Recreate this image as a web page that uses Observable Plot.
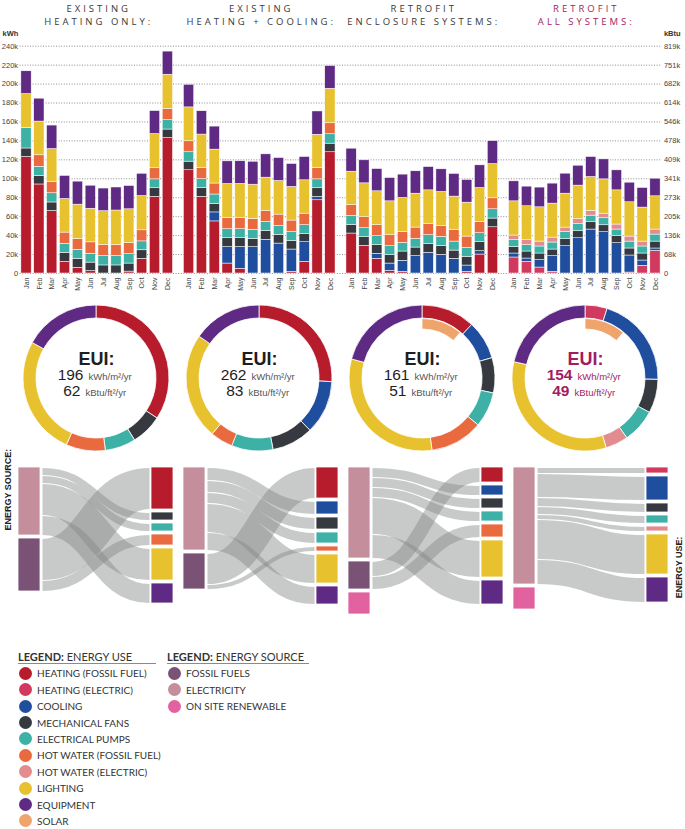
<!DOCTYPE html>
<html><head><meta charset="utf-8">
<script src="https://cdn.jsdelivr.net/npm/d3@7"></script>
<script src="https://cdn.jsdelivr.net/npm/@observablehq/plot@0.6"></script>
<style>
body{margin:0;background:#fff;}
#root{position:relative;width:685px;height:829px;overflow:hidden;font-family:"Liberation Sans",Arial,sans-serif;background:#fff;}
.lg-head{position:absolute;font-family:Lato,"Open Sans",sans-serif;font-size:11px;color:#333;white-space:nowrap;line-height:12px;}
.lg-line{position:absolute;height:1px;background:#8a8a8a;}
.lg-dot{position:absolute;width:13px;height:13px;border-radius:50%;}
.lg-txt{position:absolute;font-family:Lato,"Open Sans",sans-serif;font-size:10px;color:#333;white-space:nowrap;line-height:12px;}
</style></head><body><div id="root"></div>
<script>
// ---------------- DATA ----------------
const months = ["Jan","Feb","Mar","Apr","May","Jun","Jul","Aug","Sep","Oct","Nov","Dec"];
const scenarioTitles = ["EXISTING\nHEATING ONLY:", "EXISTING\nHEATING + COOLING:", "RETROFIT\nENCLOSURE SYSTEMS:", "RETROFIT\nALL SYSTEMS:"];
const useKeys = ["heatFossil","heatElec","cooling","fans","pumps","hwFossil","hwElec","lighting","equipment","solar"];
const useLabels = ["HEATING (FOSSIL FUEL)","HEATING (ELECTRIC)","COOLING","MECHANICAL FANS","ELECTRICAL PUMPS","HOT WATER (FOSSIL FUEL)","HOT WATER (ELECTRIC)","LIGHTING","EQUIPMENT","SOLAR"];
const sourceKeys = ["elec","fossil","renew"];
const sourceLabels = ["ELECTRICITY","FOSSIL FUELS","ON SITE RENEWABLE"];
const sourceLegendOrder = ["fossil","elec","renew"];

// monthly energy use, thousands of kWh
const existingHeatingOnly = {
  heatFossil: [123, 94, 66, 12.3, 6, 2.5, 0, 0, 2, 15.5, 81, 143],
  fans:       [9, 9, 9, 9.5, 9.5, 9, 8.5, 8.5, 8.5, 9, 9, 9],
  pumps:      [21.5, 9.7, 9.7, 9.5, 9.5, 9.4, 9.9, 9.9, 9.9, 9.4, 9.4, 9.9],
  hwFossil:   [0, 12.1, 11.8, 11.9, 11.5, 12, 11.6, 11.6, 11.6, 11.7, 11.7, 12],
  lighting:   [36, 35.6, 34.9, 35.5, 36.2, 35.5, 35.8, 36.5, 35.8, 36.2, 36.2, 36],
  equipment:  [24, 24.2, 24.8, 24.3, 24.3, 24.3, 23.9, 24.3, 24.6, 23.5, 24.2, 24.4]
};
const existingHeatingCooling = {
  heatFossil: [109, 81, 55, 10.5, 5, 0, 0, 0, 1.8, 12.3, 77.3, 128],
  cooling:    [0, 0, 9.5, 17.3, 22.9, 27.8, 35.5, 31.6, 23.5, 20.7, 3.5, 0],
  fans:       [9.1, 9.2, 9.1, 9.4, 9.4, 8.7, 9.5, 9.2, 9.1, 8.5, 9.2, 9.1],
  pumps:      [9.9, 9.4, 9.8, 9.5, 9.5, 9.5, 9.5, 9.4, 9.5, 9.5, 9.4, 9.9],
  hwFossil:   [11.6, 12, 11.6, 12, 12, 11.6, 11.5, 12, 12, 12.2, 12, 11.6],
  lighting:   [35.8, 35.1, 35.8, 35.8, 35.8, 36.2, 35.2, 35.5, 35.5, 35.2, 35.1, 36.5],
  equipment:  [23.9, 24.6, 24.3, 23.9, 23.9, 24.2, 24.6, 24.2, 24.2, 24.6, 24.6, 24]
};
const retrofitEnclosure = {
  heatFossil: [42.2, 29.2, 15.5, 2.8, 1.8, 0, 0, 0, 0, 1.8, 20, 48.8],
  cooling:    [0, 0, 5.2, 7.7, 11.6, 18.3, 21.8, 19.7, 15.5, 6.6, 3.5, 0],
  fans:       [9.1, 9.1, 9.2, 8.8, 9.8, 9.1, 9.1, 9.5, 8.7, 9.2, 9.5, 9.2],
  pumps:      [9.5, 9.5, 9.5, 9.5, 9.1, 9.1, 9.5, 9.5, 9.5, 9.5, 9.5, 9.8],
  hwFossil:   [11.6, 11.6, 11.6, 11.6, 11.6, 12, 12, 11.5, 12, 11.9, 12, 11.6],
  lighting:   [35.1, 35.8, 35.8, 35.8, 35.9, 35.8, 35.4, 35.9, 35.5, 35.8, 35.8, 36.2],
  equipment:  [24.3, 24.3, 23.5, 24.6, 24.6, 23.6, 24.6, 23.9, 23.9, 23.9, 23.9, 24.2]
};
const retrofitAll = {
  heatElec:   [16.9, 12.3, 6.3, 1.8, 0, 0, 0, 0, 0, 1, 8.1, 23.9],
  cooling:    [4.2, 3.5, 7.8, 16.5, 28.8, 37.2, 46.4, 43.6, 32, 18, 5.6, 2.5],
  fans:       [7, 7.4, 7, 7, 7.4, 7.4, 7.7, 7.3, 7.4, 7.4, 7.4, 7.3],
  pumps:      [7, 6.7, 7.4, 7.4, 7.4, 7.4, 7, 7.4, 7, 7.3, 7.4, 7.4],
  hwElec:     [5, 5.2, 5.2, 5.2, 4.9, 5.3, 5, 4.9, 5.3, 5.3, 5.2, 5.3],
  lighting:   [36.1, 35.9, 36.2, 35.9, 35.8, 35.5, 35.8, 36.2, 36.1, 36.2, 35.9, 35.1],
  equipment:  [21.1, 20.7, 20.8, 21.1, 21.1, 21, 21.1, 21.1, 21.1, 20.7, 20.7, 18.6]
};
const scenarios = [existingHeatingOnly, existingHeatingCooling, retrofitEnclosure, retrofitAll];

// yearly shares shown in the rings (percent) + solar arc
const donutHeatingOnly   = {heatFossil: 34.2, fans: 6.9, pumps: 6.8, hwFossil: 8.7, lighting: 26.4, equipment: 16.9};
const donutHeatingCool   = {heatFossil: 25.8, cooling: 11.9, fans: 9.2, pumps: 9.2, hwFossil: 5, lighting: 23.6, equipment: 15.3};
const donutEnclosure     = {heatFossil: 11.9, cooling: 8.6, fans: 7.8, pumps: 7.8, hwFossil: 11.7, lighting: 31.4, equipment: 20.8};
const donutAllSystems    = {heatElec: 4.9, cooling: 20.4, fans: 7.5, pumps: 7.5, hwElec: 5, lighting: 33.3, equipment: 21.4};
const donuts = [donutHeatingOnly, donutHeatingCool, donutEnclosure, donutAllSystems];
const solarShare = [0, 0, 11.1, 11.1];
const euiKwh = [196, 262, 161, 154];
const euiKbtu = [62, 83, 51, 49];

// energy flows source -> use (relative units)
const flowsHeatingOnly = [["elec","fans",8],["elec","pumps",8],["elec","lighting",32],["elec","equipment",20],["fossil","heatFossil",42],["fossil","hwFossil",11]];
const flowsHeatingCool = [["elec","cooling",13],["elec","fans",12],["elec","pumps",11],["elec","lighting",29],["elec","equipment",18],["fossil","heatFossil",31],["fossil","hwFossil",5]];
const flowsEnclosure   = [["elec","cooling",10],["elec","fans",10],["elec","pumps",10],["elec","lighting",37],["elec","equipment",24],["fossil","heatFossil",15],["fossil","hwFossil",13]];
const flowsAllSystems  = [["elec","heatElec",6],["elec","cooling",24],["elec","fans",9],["elec","pumps",8],["elec","hwElec",5],["elec","lighting",40],["elec","equipment",25]];
const flows = [flowsHeatingOnly, flowsHeatingCool, flowsEnclosure, flowsAllSystems];
const renewableSupply = [0, 0, 22, 22];

// ---------------- STYLE ----------------
const useColors = ["#b71c2c","#d2395f","#1f4e9f","#363a40","#3eb1a7","#ea6a40","#e38c90","#e7c12e","#5e2a83","#efa46c"];
const sourceColors = ["#c48e9c","#7a5276","#e2629f"];
const highlight = "#a31c63";
const colorOf = new Map([...useKeys.map((k,i)=>[k,useColors[i]]), ...sourceKeys.map((k,i)=>[k,sourceColors[i]])]);

const root = document.getElementById("root");
function place(node, top){ node.style.position="absolute"; node.style.left="0px"; node.style.top=top+"px"; root.appendChild(node); }

// ---------------- BAR CHART ----------------
const G = 12.65; // panel stride in month units
const barRows = [];
const tickPos = [], monthAt = new Map();
scenarios.forEach((sc, pi) => {
  months.forEach((m, mi) => {
    const pos = pi*G + mi;
    tickPos.push(pos); monthAt.set(pos, m);
    let acc = 0;
    for (const u of useKeys) {
      const v = sc[u] ? sc[u][mi] : 0;
      if (v > 0) barRows.push({pos, use: u, y1: acc, y2: acc + v});
      acc += v;
    }
  });
});
const titleRows = scenarioTitles.map((t, pi) => ({pos: pi*G + 5.5, title: t, pi}));
const yTicks = d3.range(0, 241, 20);

const bars = Plot.plot({
  width: 685, height: 300,
  marginLeft: 19.6, marginRight: 23.6, marginTop: 45.7, marginBottom: 27,
  x: {domain: [-0.5, 3*G + 11.5]},
  y: {domain: [0, 240]},
  color: {domain: useKeys, range: useColors},
  style: {fontFamily: '"Liberation Sans", Arial, sans-serif', overflow: "visible", background: "transparent"},
  marks: [
    Plot.gridY({ticks: yTicks, stroke: "#555", strokeOpacity: 0.85, strokeDasharray: "1,1.6", strokeWidth: 0.8}),
    Plot.rect(barRows, {x1: d => d.pos - 0.4, x2: d => d.pos + 0.4, y1: "y1", y2: "y2", fill: "use", stroke: "white", strokeWidth: 0.5}),
    Plot.axisY({anchor: "left", ticks: yTicks, tickFormat: d => d ? d + "k" : "0", tickSize: 0, tickPadding: 2, fontSize: 7.5, fill: "#444", label: null}),
    Plot.axisY({anchor: "right", ticks: yTicks, tickFormat: d => d ? Math.round(d*3.412) + "k" : "0", tickSize: 0, tickPadding: 2, fontSize: 7.5, fill: "#444", label: null}),
    Plot.axisX({ticks: tickPos, tickFormat: d => monthAt.get(d), tickRotate: -90, tickSize: 0, tickPadding: 4, fontSize: 7, fill: "#444", label: null}),
    Plot.text(titleRows.filter(d => d.pi < 3), {x: "pos", text: "title", frameAnchor: "top", lineAnchor: "top", dy: -44, dx: 1.5, lineHeight: 1.4, fontSize: 9.5, fontFamily: '"Open Sans", sans-serif', fill: "#3a3a3a"}),
    Plot.text(titleRows.filter(d => d.pi === 3), {x: "pos", text: "title", frameAnchor: "top", lineAnchor: "top", dy: -44, dx: 1.5, lineHeight: 1.4, fontSize: 9.5, fontFamily: '"Open Sans", sans-serif', fill: highlight}),
    Plot.text(["kWh"], {frameAnchor: "top-left", textAnchor: "start", dx: -17.6, dy: -16, fontSize: 7.5, fontWeight: "bold", fill: "#333"}),
    Plot.text(["kBtu"], {frameAnchor: "top-right", textAnchor: "start", dx: 2, dy: -16, fontSize: 7.5, fontWeight: "bold", fill: "#333"})
  ]
});
// spaced-out lettering of the panel titles
d3.select(bars).selectAll("text")
  .filter(function() { return scenarioTitles.includes(Array.from(this.querySelectorAll("tspan")).map(t => t.textContent).join("\n")) || scenarioTitles.map(s => s.replace("\n","")).includes(this.textContent); })
  .style("letter-spacing", "3px");
place(bars, 0);

// ---------------- DONUTS ----------------
const idx = [0,1,2,3];
function donutMark(index, scales, values, dimensions) {
  const g = d3.create("svg:g");
  const cy = (dimensions.marginTop + dimensions.height - dimensions.marginBottom) / 2;
  donuts.forEach((dn, i) => {
    const cx = scales.x(i);
    const slices = useKeys.filter(k => dn[k] > 0).map(k => ({use: k, value: dn[k]}));
    const total = d3.sum(slices, d => d.value);
    const arcs = d3.pie().sort(null).value(d => d.value)(slices);
    const gg = g.append("g").attr("transform", `translate(${cx},${cy})`);
    gg.selectAll("path").data(arcs).join("path")
      .attr("d", d3.arc().innerRadius(60).outerRadius(73))
      .attr("fill", d => colorOf.get(d.data.use))
      .attr("stroke", "white").attr("stroke-width", 0.8);
    if (solarShare[i] > 0) {
      gg.append("path")
        .attr("d", d3.arc()({innerRadius: 49, outerRadius: 59.5, startAngle: 0, endAngle: solarShare[i] / total * 2 * Math.PI}))
        .attr("fill", colorOf.get("solar")).attr("stroke", "white").attr("stroke-width", 0.8);
    }
  });
  return g.node();
}
const numFont = '"Liberation Sans", Arial, sans-serif';
const donutPlot = Plot.plot({
  width: 685, height: 156, marginTop: 0, marginBottom: 0, marginLeft: 95, marginRight: 100,
  x: {type: "point", domain: idx, padding: 0, axis: null},
  style: {fontFamily: numFont, overflow: "visible", background: "transparent"},
  marks: [
    donutMark,
    Plot.text(idx.filter(i => i < 3), {x: d => d, text: () => "EUI:", frameAnchor: "middle", dy: -19, fontSize: 18, fontWeight: "bold", fill: "#1e1e1e"}),
    Plot.text(idx.filter(i => i === 3), {x: d => d, text: () => "EUI:", frameAnchor: "middle", dy: -19, fontSize: 18, fontWeight: "bold", fill: highlight}),
    Plot.text(euiKwh, {filter: (d,i) => i < 3, x: (d,i) => i, text: d => String(d), frameAnchor: "middle", textAnchor: "end", dx: -13, dy: -3, fontSize: 15.5, fill: "#1e1e1e"}),
    Plot.text(euiKwh, {filter: (d,i) => i === 3, x: (d,i) => i, text: d => String(d), frameAnchor: "middle", textAnchor: "end", dx: -13, dy: -3, fontSize: 15.5, fontWeight: "bold", fill: highlight}),
    Plot.text(euiKwh, {x: (d,i) => i, text: () => "kWh/m²/yr", frameAnchor: "middle", textAnchor: "start", dx: -8, dy: -2, fontSize: 9.5, fill: (d,i) => i === 3 ? highlight : "#555"}),
    Plot.text(euiKbtu, {filter: (d,i) => i < 3, x: (d,i) => i, text: d => String(d), frameAnchor: "middle", textAnchor: "end", dx: -16, dy: 13, fontSize: 15.5, fill: "#1e1e1e"}),
    Plot.text(euiKbtu, {filter: (d,i) => i === 3, x: (d,i) => i, text: d => String(d), frameAnchor: "middle", textAnchor: "end", dx: -16, dy: 13, fontSize: 15.5, fontWeight: "bold", fill: highlight}),
    Plot.text(euiKbtu, {x: (d,i) => i, text: () => "kBtu/ft²/yr", frameAnchor: "middle", textAnchor: "start", dx: -11, dy: 14, fontSize: 9.5, fill: (d,i) => i === 3 ? highlight : "#555"})
  ]
});
place(donutPlot, 300);

// ---------------- SANKEY ----------------
const PAD = 3, NODE_W = 22;
const nodeRows = [], linkRows = [];
flows.forEach((links, p) => {
  const srcLeft = 18 + 165*p, tgtLeft = 151 + 165*p;
  const srcVal = new Map(), tgtVal = new Map();
  links.forEach(([s,t,v]) => { srcVal.set(s, (srcVal.get(s)||0) + v); tgtVal.set(t, (tgtVal.get(t)||0) + v); });
  if (renewableSupply[p] > 0) srcVal.set("renew", renewableSupply[p]);
  const srcY = new Map(), tgtY = new Map();
  let y = 0;
  for (const s of sourceKeys) if (srcVal.has(s)) { srcY.set(s, y); nodeRows.push({key: s, x1: srcLeft, x2: srcLeft + NODE_W, y1: y, y2: y + srcVal.get(s)}); y += srcVal.get(s) + PAD; }
  y = 0;
  for (const t of useKeys) if (tgtVal.has(t)) { tgtY.set(t, y); nodeRows.push({key: t, x1: tgtLeft, x2: tgtLeft + NODE_W, y1: y, y2: y + tgtVal.get(t)}); y += tgtVal.get(t) + PAD; }
  const ls = links.map(([s,t,v]) => ({s, t, v}));
  ls.slice().sort((a,b) => useKeys.indexOf(a.t) - useKeys.indexOf(b.t)).forEach(l => { l.sy = srcY.get(l.s) + l.v/2; srcY.set(l.s, srcY.get(l.s) + l.v); });
  ls.slice().sort((a,b) => sourceKeys.indexOf(a.s) - sourceKeys.indexOf(b.s)).forEach(l => { l.ty = tgtY.get(l.t) + l.v/2; tgtY.set(l.t, tgtY.get(l.t) + l.v); });
  ls.forEach(l => linkRows.push({x1: srcLeft + NODE_W + 2, x2: tgtLeft - 2, y1: l.sy, y2: l.ty, v: l.v}));
});

const sankey = Plot.plot({
  width: 685, height: 165, marginTop: 12, marginBottom: 17, marginLeft: 0, marginRight: 0,
  x: {domain: [0, 685], range: [0, 685], axis: null},
  y: {domain: [0, 136], range: [12, 148], axis: null},
  color: {domain: [...useKeys, ...sourceKeys], range: [...useColors, ...sourceColors]},
  style: {fontFamily: numFont, overflow: "visible", background: "transparent"},
  marks: [
    Plot.link(linkRows, {x1: "x1", y1: "y1", x2: "x2", y2: "y2", strokeWidth: d => Math.max(0.5, d.v - 0.9), stroke: "#858787", strokeOpacity: 0.45, curve: "bump-x"}),
    Plot.rect(nodeRows, {x1: "x1", x2: "x2", y1: "y1", y2: "y2", fill: "key", stroke: "white", strokeWidth: 0.8}),
    Plot.text(["ENERGY SOURCE:"], {frameAnchor: "left", rotate: -90, dx: 8, dy: -5, fontSize: 9, fontWeight: "bold", fill: "#222"}),
    Plot.text(["ENERGY USE:"], {frameAnchor: "right", rotate: -90, dx: -6, dy: 1, fontSize: 9, fontWeight: "bold", fill: "#222"})
  ]
});
place(sankey, 455);

// ---------------- LEGEND ----------------
function legend(x, lineW, kind, labels, colors) {
  const h = document.createElement("div");
  h.className = "lg-head"; h.style.left = x + "px"; h.style.top = "651px";
  h.innerHTML = "<b>LEGEND:</b> " + kind;
  root.appendChild(h);
  const ln = document.createElement("div");
  ln.className = "lg-line"; ln.style.left = x + "px"; ln.style.top = "663px"; ln.style.width = lineW + "px";
  root.appendChild(ln);
  labels.forEach((lab, i) => {
    const yc = 673.3 + i*16.4;
    const dot = document.createElement("div");
    dot.className = "lg-dot"; dot.style.left = (x + 0.5) + "px"; dot.style.top = (yc - 6.5) + "px"; dot.style.background = colors[i];
    root.appendChild(dot);
    const t = document.createElement("div");
    t.className = "lg-txt"; t.style.left = (x + 19) + "px"; t.style.top = (yc - 6) + "px"; t.textContent = lab;
    root.appendChild(t);
  });
}
legend(18, 138, "ENERGY USE", useLabels, useColors);
legend(167, 142, "ENERGY SOURCE", sourceLegendOrder.map(k => sourceLabels[sourceKeys.indexOf(k)]), sourceLegendOrder.map(k => colorOf.get(k)));
</script></body></html>
